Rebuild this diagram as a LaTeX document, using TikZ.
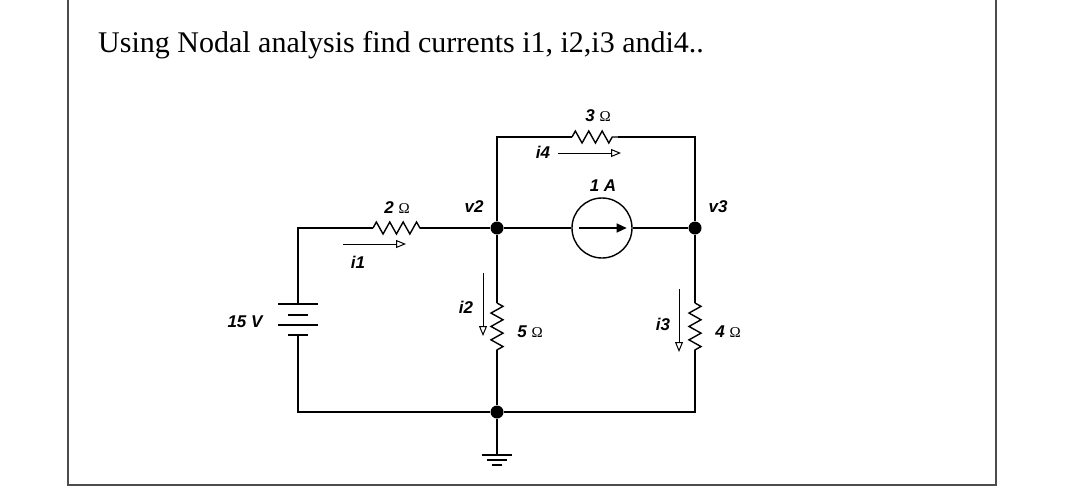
\documentclass[tikz,border=0pt]{standalone}
\usepackage{fontspec}
\setmainfont{Liberation Serif}
\newfontfamily\lab{Liberation Sans}
\usetikzlibrary{arrows.meta,decorations.pathmorphing,calc}
\begin{document}
\begin{tikzpicture}[x=1pt,y=-1pt,
  wire/.style={line width=1.4pt},
  res/.style={decorate,decoration={zigzag,segment length=13.4pt,amplitude=6pt}},
  cur/.style={line width=1pt,-{Triangle[open,length=10pt,width=8pt]}},
  lbl/.style={font=\lab\bfseries\itshape\fontsize{17}{17}\selectfont},
  om/.style={font=\normalfont\fontsize{15}{15}\selectfont},
  dot/.style={circle,fill,inner sep=0pt,minimum size=13pt}]
\useasboundingbox (0,0) rectangle (1080,488);
\draw[line width=1.5pt,black!70] (68,-5) rectangle (996,485);
\node[anchor=base west,font=\fontsize{30}{30}\selectfont,inner sep=0] (title) at (98,52) {Using Nodal analysis find currents i1, i2,i3 andi4..};
% coordinates
\coordinate (tl) at (298,228);
\node[dot] (v2) at (497,228) {};
\node[dot] (v3) at (695,228) {};
\node[dot] (gnd) at (497,412) {};
\coordinate (bl) at (298,412);
\coordinate (br) at (695,412);
\coordinate (t2) at (497,137);
\coordinate (t3) at (695,137);
\coordinate (r1a) at (373,228); \coordinate (r1b) at (420,228);
\coordinate (r4a) at (572,137); \coordinate (r4b) at (618,137);
\coordinate (r2a) at (497,303); \coordinate (r2b) at (497,350);
\coordinate (r3a) at (695,303); \coordinate (r3b) at (695,350);
\node[circle,draw,line width=1.4pt,minimum size=60pt,inner sep=0] (cs) at (602,228) {};
\coordinate (b1) at (298,304); \coordinate (b4) at (298,335);
\coordinate (g) at (497,455);
% wires
\draw[wire] (b1) -- (tl) -- (r1a);
\draw[wire,res] (r1a) -- (r1b);
\draw[wire] (r1b) -- (v2) -- (cs.west);
\draw[wire] (cs.east) -- (v3);
\draw[wire] (v2) -- (t2) -- (r4a);
\draw[wire,res] (r4a) -- (r4b);
\draw[wire] (r4b) -- (t3) -- (v3) -- (r3a);
\draw[wire,res] (r3a) -- (r3b);
\draw[wire] (r3b) -- (br) -- (gnd) -- (bl) -- (b4);
\draw[wire] (v2) -- (r2a);
\draw[wire,res] (r2a) -- (r2b);
\draw[wire] (r2b) -- (gnd) -- (g);
% battery
\draw[wire] (278,304) -- (318,304);
\draw[wire] (288,315) -- (308,315);
\draw[wire] (278,325) -- (318,325);
\draw[wire] (288,335) -- (308,335);
% ground
\draw[wire] (482,455) -- (512,455);
\draw[wire] (487,460) -- (507,460);
\draw[wire] (492,465) -- (502,465);
% source arrow
\draw[line width=1.4pt,-{Triangle[length=10pt,width=9pt]}] ($(cs.west)+(8,0)$) -- ($(cs.east)+(-6,0)$);
% currents
\coordinate (a1s) at (343,244); \coordinate (a1e) at (406,244);
\draw[cur] (a1s) -- (a1e);
\coordinate (a4s) at (558,153); \coordinate (a4e) at (621,153);
\draw[cur] (a4s) -- (a4e);
\coordinate (a2s) at (483,273); \coordinate (a2e) at (483,336);
\draw[cur] (a2s) -- (a2e);
\coordinate (a3s) at (679,289); \coordinate (a3e) at (679,352);
\draw[cur] (a3s) -- (a3e);
% labels
\node[lbl] (li1) at (358,262) {i1};
\node[lbl] (li4) at (543,152) {i4};
\node[lbl] (li2) at (466,307) {i2};
\node[lbl] (li3) at (663,324) {i3};
\node[lbl] (lr1) at (397,208) {2 {\normalfont\fontsize{15}{15}\selectfont Ω}};
\node[lbl] (lr4) at (598,116) {3 {\normalfont\fontsize{15}{15}\selectfont Ω}};
\node[lbl] (lr2) at (530,332) {5 {\normalfont\fontsize{15}{15}\selectfont Ω}};
\node[lbl] (lr3) at (728,332) {4 {\normalfont\fontsize{15}{15}\selectfont Ω}};
\node[lbl] (lcs) at (603,186) {1 A};
\node[lbl] (lv2) at (474,207) {v2};
\node[lbl] (lv3) at (718,207) {v3};
\node[lbl] (lbat) at (245,322) {15 V};
\end{tikzpicture}
\end{document}
